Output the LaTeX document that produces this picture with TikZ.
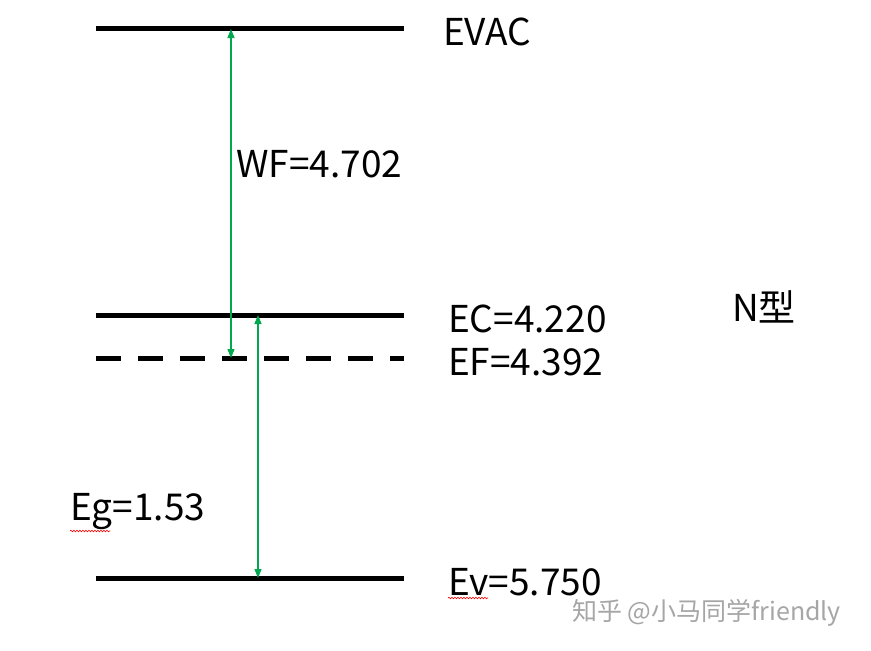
\documentclass[tikz,border=0pt]{standalone}
\usepackage{fontspec}
\setmainfont{Noto Sans CJK SC}
\usetikzlibrary{arrows.meta,decorations.pathmorphing}
\definecolor{grn}{RGB}{0,168,80}
\begin{document}
\begin{tikzpicture}[x=1pt,y=-1pt,
  level/.style={line width=5pt},
  lbl/.style={anchor=west,inner sep=0pt,font=\fontsize{37}{39}\selectfont},
  garrow/.style={grn,line width=1.3pt,{Triangle[length=9pt,width=7pt]}-{Triangle[length=9pt,width=7pt]}},
  squig/.style={red,line width=0.6pt,decorate,decoration={snake,amplitude=0.8pt,segment length=3pt}}]
\useasboundingbox (0,0) rectangle (871,651);
\fill[white] (0,0) rectangle (871,651);
\coordinate (vl) at (96,28); \coordinate (vr) at (404,28);
\coordinate (cl) at (96,315); \coordinate (cr) at (404,315);
\coordinate (fl) at (96,358); \coordinate (fr) at (404,358);
\coordinate (el) at (96,578); \coordinate (er) at (404,578);
\draw[level] (vl) -- (vr);
\draw[level] (cl) -- (cr);
\draw[level,dash pattern=on 25pt off 17pt] (fl) -- (fr);
\draw[level] (el) -- (er);
\coordinate (wt) at (231,29); \coordinate (wb) at (231,358);
\coordinate (gt) at (258,315); \coordinate (gb) at (258,578);
\draw[garrow] (wt) -- (wb);
\draw[garrow] (gt) -- (gb);
\node[lbl] (tvac) at (443,32) {EVAC};
\node[lbl] (twf) at (236,164) {WF=4.702};
\node[lbl] (tec) at (448,319) {EC=4.220};
\node[lbl] (tef) at (448,362) {EF=4.392};
\node[lbl] (tn) at (732,307) {N型};
\node[lbl] (teg) at (70,512) {Eg=1.53};
\node[lbl] (tev) at (448,582) {Ev=5.750};
\node[anchor=west,inner sep=0pt,text=gray!70,font=\fontsize{25}{27}\selectfont] (wm) at (572,613) {知乎 @小马同学friendly};
\coordinate (s1a) at (70,531); \coordinate (s1b) at (110,531);
\coordinate (s2a) at (448,598); \coordinate (s2b) at (488,598);
\draw[squig] (s1a) -- (s1b);
\draw[squig] (s2a) -- (s2b);
\end{tikzpicture}
\end{document}
